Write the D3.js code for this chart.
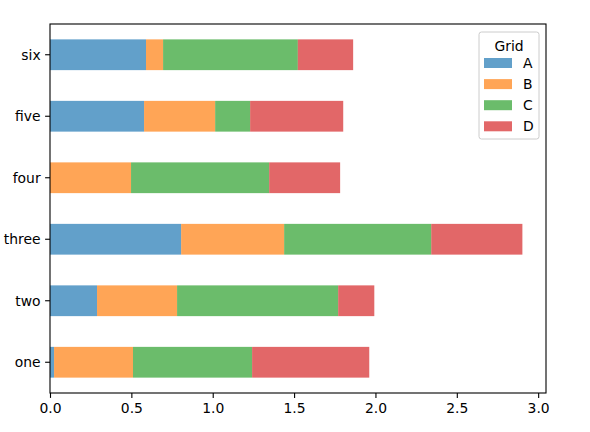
<!DOCTYPE html>
<html>
<head>
<meta charset="utf-8">
<script src="https://cdn.jsdelivr.net/npm/d3@7"></script>
<style>
  body { margin: 0; background: #fff; }
  svg text { font-family: "DejaVu Sans", sans-serif; }
  .tick text { font-size: 13.9px; fill: #000; }
</style>
</head>
<body>
<svg width="590" height="432"></svg>
<script>
  const categories = ['one', 'two', 'three', 'four', 'five', 'six'];
  const seriesNames = ['A', 'B', 'C', 'D'];
  const valuesA = [0.025, 0.289, 0.806, 0.0, 0.578, 0.590];
  const valuesB = [0.485, 0.492, 0.633, 0.498, 0.437, 0.105];
  const valuesC = [0.732, 0.990, 0.904, 0.849, 0.215, 0.828];
  const valuesD = [0.720, 0.222, 0.560, 0.436, 0.572, 0.340];
  const xTicks = [0, 0.5, 1.0, 1.5, 2.0, 2.5, 3.0];

  const colors = ['#1f77b4', '#ff7f0e', '#2ca02c', '#d62728'];

  const svg = d3.select('svg');
  const margin = { top: 24, right: 44, bottom: 39, left: 50 };
  const width = +svg.attr('width');
  const height = +svg.attr('height');
  const innerWidth = width - margin.left - margin.right;
  const innerHeight = height - margin.top - margin.bottom;

  const table = categories.map((c, i) => ({
    cat: c, A: valuesA[i], B: valuesB[i], C: valuesC[i], D: valuesD[i]
  }));
  const stacked = d3.stack().keys(seriesNames)(table);
  const maxTotal = d3.max(table, d => d.A + d.B + d.C + d.D);

  const xScale = d3.scaleLinear()
    .domain([0, maxTotal * 1.05])
    .range([0, innerWidth]);

  const yScale = d3.scaleBand()
    .domain(categories)
    .range([innerHeight, 0])
    .paddingInner(0.5)
    .paddingOuter(0.25);

  const g = svg.append('g')
    .attr('transform', `translate(${margin.left},${margin.top})`);

  g.selectAll('g.series').data(stacked)
    .enter().append('g')
      .attr('class', 'series')
      .attr('fill', (d, i) => colors[i])
      .attr('fill-opacity', 0.7)
    .selectAll('rect').data(d => d)
    .enter().append('rect')
      .attr('x', d => xScale(d[0]))
      .attr('width', d => xScale(d[1]) - xScale(d[0]))
      .attr('y', d => yScale(d.data.cat))
      .attr('height', yScale.bandwidth());

  const xAxis = d3.axisBottom(xScale)
    .tickValues(xTicks)
    .tickFormat(d3.format('.1f'))
    .tickSize(4.9)
    .tickPadding(4);

  const yAxis = d3.axisLeft(yScale)
    .tickSize(4.9)
    .tickPadding(4.5);

  const xAxisG = g.append('g')
    .attr('transform', `translate(0,${innerHeight})`)
    .call(xAxis);
  xAxisG.select('.domain').remove();
  xAxisG.selectAll('.tick line').attr('stroke', '#000').attr('stroke-width', 1.1);
  // explicit baseline instead of dy so the labels sit like matplotlib's
  xAxisG.selectAll('.tick text').attr('dy', null).attr('y', 20);

  const yAxisG = g.append('g').call(yAxis);
  yAxisG.select('.domain').remove();
  yAxisG.selectAll('.tick line').attr('stroke', '#000').attr('stroke-width', 1.1);
  yAxisG.selectAll('.tick text').attr('dy', null).attr('dominant-baseline', 'central');

  // frame
  g.append('rect')
    .attr('width', innerWidth)
    .attr('height', innerHeight)
    .attr('fill', 'none')
    .attr('stroke', '#000')
    .attr('stroke-width', 1.1);

  // legend
  const legend = svg.append('g')
    .attr('transform', 'translate(479,32)');

  legend.append('rect')
    .attr('width', 60)
    .attr('height', 107)
    .attr('rx', 2.5)
    .attr('fill', '#fff')
    .attr('fill-opacity', 0.8)
    .attr('stroke', '#cccccc')
    .attr('stroke-width', 1);

  legend.append('text')
    .attr('x', 30)
    .attr('y', 19)
    .attr('text-anchor', 'middle')
    .style('font-size', '13.9px')
    .text('Grid');

  const items = legend.selectAll('g.item').data(seriesNames)
    .enter().append('g')
      .attr('class', 'item')
      .attr('transform', (d, i) => `translate(5,${26 + i * 21.1})`);

  items.append('rect')
    .attr('width', 28)
    .attr('height', 10)
    .attr('fill', (d, i) => colors[i])
    .attr('fill-opacity', 0.7);

  items.append('text')
    .attr('x', 39)
    .attr('y', 10)
    .style('font-size', '13.9px')
    .text(d => d);
</script>
</body>
</html>
